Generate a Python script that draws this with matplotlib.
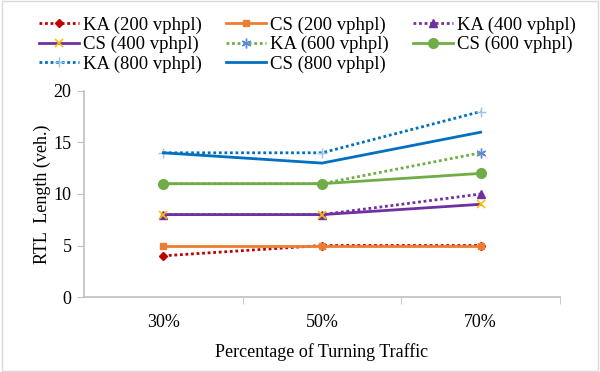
import matplotlib
matplotlib.use("Agg")
import matplotlib.pyplot as plt
from matplotlib.patches import Rectangle

categories = ["30%", "50%", "70%"]
ka200 = [4, 5, 5]
cs200 = [5, 5, 5]
ka400 = [8, 8, 10]
cs400 = [8, 8, 9]
ka600 = [11, 11, 14]
cs600 = [11, 11, 12]
ka800 = [14, 14, 18]
cs800 = [14, 13, 16]
yticks = [0, 5, 10, 15, 20]

plt.rcParams['font.family'] = ['Liberation Serif', 'DejaVu Serif']
FS = 13

fig = plt.figure(figsize=(6, 3.72), dpi=100)
ax = fig.add_axes([0.14, 0.2016, 0.7933, 0.5538])
x = list(range(len(categories)))

dot = (0, (1, 1))
series = [
    ("KA (200 vphpl)", ka200, dict(color="#C00000", ls=dot, marker="D", ms=4, mfc="#C00000", mec="#C00000")),
    ("CS (200 vphpl)", cs200, dict(color="#ED7D31", ls="-", marker="s", ms=5, mfc="#ED7D31", mec="#ED7D31")),
    ("KA (400 vphpl)", ka400, dict(color="#7030A0", ls=dot, marker="^", ms=6, mfc="#7030A0", mec="#7030A0")),
    ("CS (400 vphpl)", cs400, dict(color="#7030A0", ls="-", marker="x", ms=6, mfc="#FFC000", mec="#FFC000", mew=1.2)),
    ("KA (600 vphpl)", ka600, dict(color="#70AD47", ls=dot, marker=(6, 2, 0), ms=7, mec="#5B8BD6", mew=1.0)),
    ("CS (600 vphpl)", cs600, dict(color="#70AD47", ls="-", marker="o", ms=7, mfc="#70AD47", mec="#70AD47")),
    ("KA (800 vphpl)", ka800, dict(color="#0070C0", ls=dot, marker="+", ms=7, mec="#9DC3E6", mew=1.0)),
    ("CS (800 vphpl)", cs800, dict(color="#0070C0", ls="-", marker=None)),
]
for label, vals, st in series:
    ax.plot(x, vals, label=label, lw=2, **st)

ax.set_xlim(-0.5, 2.5)
ax.set_ylim(0, 20)
ax.set_yticks(yticks)
ax.set_xticks(x)
ax.set_xticklabels(categories, fontsize=FS)
ax.set_xticks([0.5, 1.5, 2.5], minor=True)
ax.tick_params(axis='x', which='major', length=0, pad=12)
ax.tick_params(axis='x', which='minor', length=5, color="#BFBFBF", direction='out')
ax.tick_params(axis='y', length=5, color="#BFBFBF", labelsize=FS, pad=4)
for s in ["top", "right"]:
    ax.spines[s].set_visible(False)
for s in ["left", "bottom"]:
    ax.spines[s].set_color("#BFBFBF")
    ax.spines[s].set_linewidth(1.2)

ax.set_xlabel("Percentage of Turning Traffic", fontsize=FS, labelpad=9)
ax.set_ylabel("RTL  Length (veh.)", fontsize=FS, labelpad=2)

handles, labels = ax.get_legend_handles_labels()
order = [0, 3, 6, 1, 4, 7, 2, 5]
fig.legend([handles[i] for i in order], [labels[i] for i in order],
           loc="upper left", bbox_to_anchor=(0.055, 0.971), ncol=3, frameon=False,
           fontsize=13.5, handlelength=2.13, columnspacing=1.3, labelspacing=0.12,
           handletextpad=0.22, borderpad=0.3, borderaxespad=0)

fig.patches.append(Rectangle((0.003, 0.003), 0.994, 0.994, transform=fig.transFigure,
                             fill=False, edgecolor="#D9D9D9", lw=1.0))

fig.savefig("out.png", dpi=100)
